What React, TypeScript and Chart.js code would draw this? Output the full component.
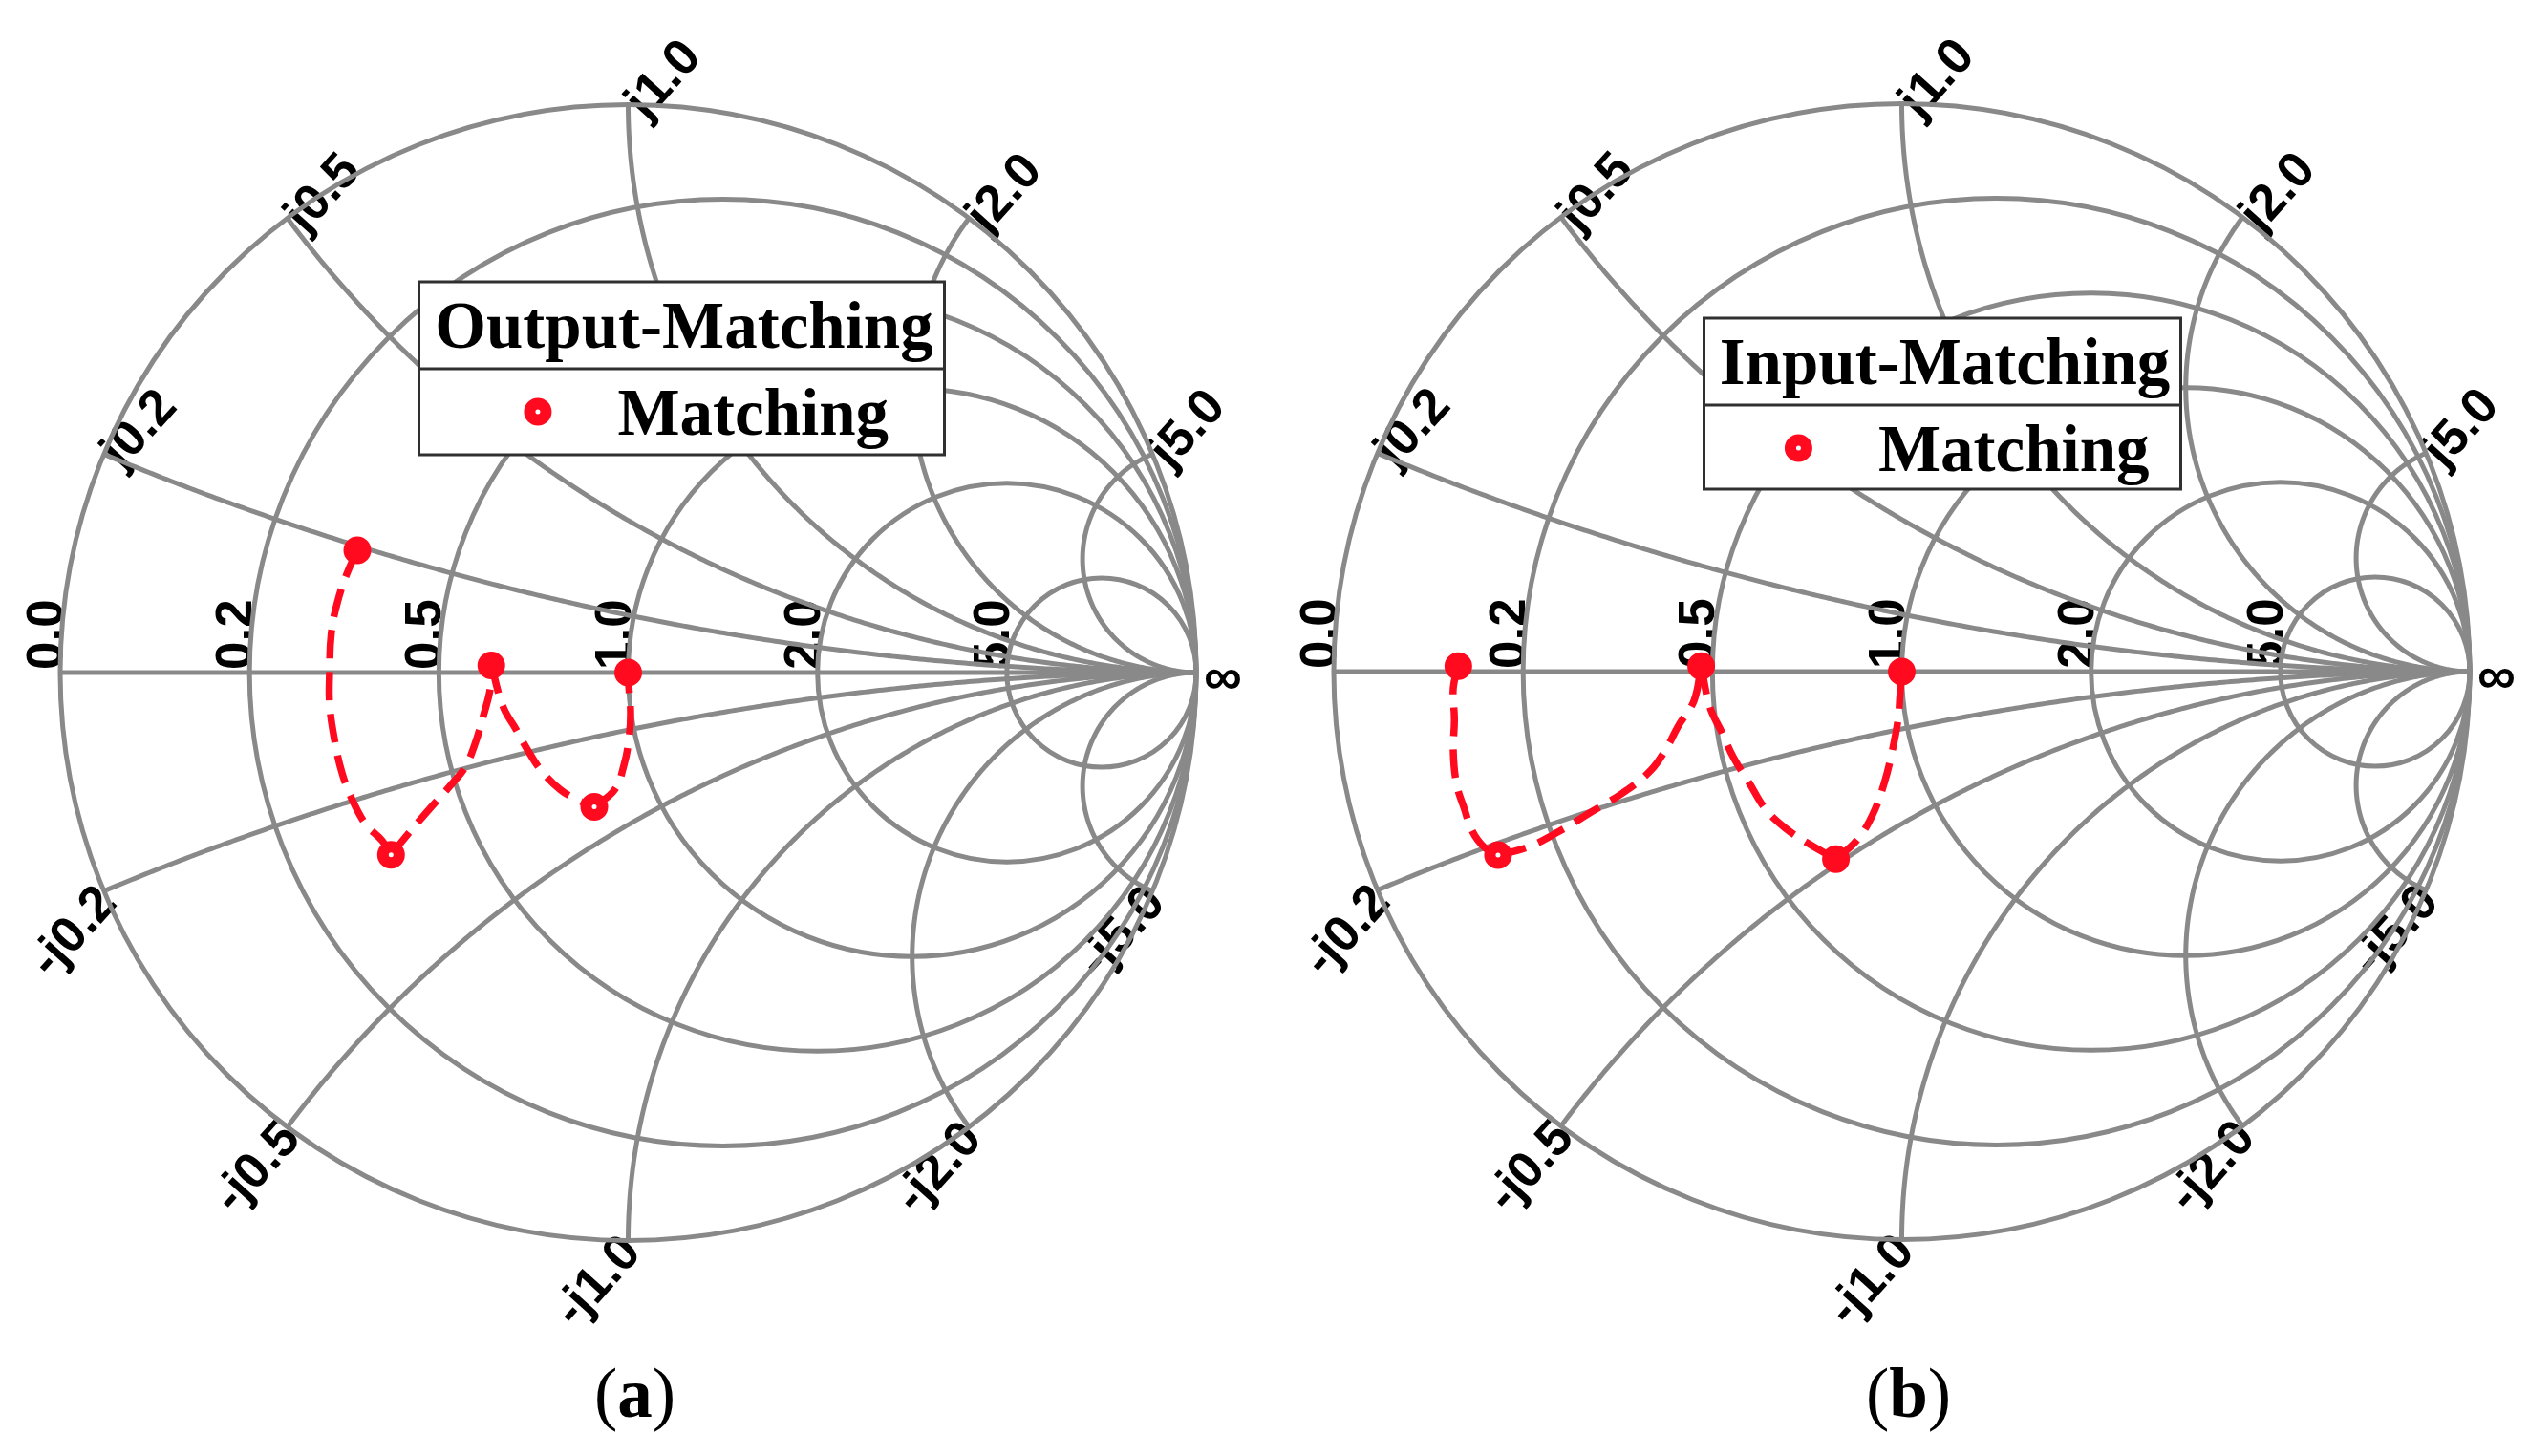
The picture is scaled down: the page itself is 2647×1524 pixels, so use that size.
import React, { useEffect, useRef } from 'react';
import { Chart, registerables } from 'chart.js';

Chart.register(...registerables);

// ---- Smith chart grid values and tick labels ----
const resistanceValues = [0, 0.2, 0.5, 1, 2, 5];
const resistanceLabels = ['0.0', '0.2', '0.5', '1.0', '2.0', '5.0'];
const reactanceValues = [0.2, 0.5, 1, 2, 5];
const reactanceLabelsPos = ['j0.2', 'j0.5', 'j1.0', 'j2.0', 'j5.0'];
const reactanceLabelsNeg = ['-j0.2', '-j0.5', '-j1.0', '-j2.0', '-j5.0'];
const infinityLabel = '\u221E';

const seriesName = 'Matching';

// ---- (a) Output matching: reflection-coefficient path (Re, Im), markers at outMarkerIdx ----
const outPathRe = [
  -0.4769,
  -0.4949, -0.5117, -0.5228, -0.5257, -0.5257, -0.5173, -0.5033, -0.4836, -0.4612, -0.4332,
  -0.4175,
  -0.3882, -0.3546, -0.3098, -0.2873, -0.2705, -0.2537, -0.2426,
  -0.2410,
  -0.2200, -0.1976, -0.1753, -0.1527, -0.1191, -0.0854,
  -0.0597,
  -0.0239, -0.0071, 0.0013, 0.0042, 0.0013,
  0.0,
];
const outPathIm = [
  0.2153,
  0.1749, 0.1245, 0.0685, 0.0012, -0.0550, -0.1166, -0.1783, -0.2288, -0.2680, -0.2960,
  -0.3209,
  -0.2848, -0.2456, -0.1951, -0.1670, -0.1278, -0.0718, -0.0269,
  0.0126,
  -0.0606, -0.0997, -0.1391, -0.1728, -0.2064, -0.2259,
  -0.2363,
  -0.2064, -0.1615, -0.1166, -0.0718, -0.0269,
  0.0,
];
const outMarkerIdx = [0, 11, 19, 26, 32];

// ---- (b) Input matching ----
const inPathRe = [
  -0.7807,
  -0.7896, -0.7876, -0.7896, -0.7840, -0.7701, -0.7561, -0.7352,
  -0.7108,
  -0.6585, -0.6027, -0.5470, -0.4912, -0.4424, -0.4145, -0.3936, -0.3657,
  -0.3531,
  -0.3378, -0.3167, -0.2959, -0.2680, -0.2401, -0.2052, -0.1633,
  -0.1159,
  -0.0797, -0.0518, -0.0310, -0.0170, -0.0066, -0.0030,
  0.0,
];
const inPathIm = [
  0.0096,
  -0.0286, -0.0846, -0.1408, -0.1968, -0.2417, -0.2809, -0.3090,
  -0.3230,
  -0.3090, -0.2809, -0.2473, -0.2136, -0.1744, -0.1351, -0.0959, -0.0510,
  0.0096,
  -0.0622, -0.1071, -0.1519, -0.1968, -0.2417, -0.2754, -0.3033,
  -0.3302,
  -0.2977, -0.2528, -0.1968, -0.1408, -0.0846, -0.0399,
  0.0,
];
const inMarkerIdx = [0, 8, 17, 25, 32];

// ---- styles ----
const GRID = '#898989';
const RED = '#ff0a1e';
const WHITE = '#ffffff';
const SANS = '"Liberation Sans", Arial, sans-serif';
const SERIF = '"Liberation Serif", "Times New Roman", serif';
const outMarkerFill = [RED, WHITE, RED, WHITE, RED];
const inMarkerFill = [RED, WHITE, RED, RED, RED];

type PanelProps = {
  left: number;
  width: number;
  height: number;
  padding: { left: number; right: number; top: number; bottom: number };
  pathRe: number[];
  pathIm: number[];
  markerIdx: number[];
  markerFill: string[];
  legendTitle: string;
  legendDx: number;
  legendDy: number;
  legendW: number;
  legendH: number;
  captionLetter: string;
};

function SmithPanel(props: PanelProps) {
  const ref = useRef<HTMLCanvasElement>(null);

  useEffect(() => {
    const canvas = ref.current!;
    const { pathRe, pathIm, markerIdx } = props;

    const segments: { x: number; y: number }[][] = [];
    for (let s = 0; s < markerIdx.length - 1; s++) {
      const pts: { x: number; y: number }[] = [];
      for (let i = markerIdx[s]; i <= markerIdx[s + 1]; i++) pts.push({ x: pathRe[i], y: pathIm[i] });
      segments.push(pts);
    }
    const markers = markerIdx.map((i) => ({ x: pathRe[i], y: pathIm[i] }));

    const datasets: any[] = [
      {
        label: seriesName,
        data: markers,
        showLine: false,
        pointRadius: 8.5,
        pointHoverRadius: 8.5,
        pointBorderWidth: 12,
        pointBackgroundColor: props.markerFill,
        pointBorderColor: RED,
      },
      ...segments.map((seg) => ({
        label: seriesName + ' path',
        data: seg,
        showLine: true,
        borderColor: RED,
        borderWidth: 7.5,
        borderDash: [30, 14],
        borderCapStyle: 'butt',
        tension: 0.4,
        pointRadius: 0,
        pointHoverRadius: 0,
        fill: false,
      })),
    ];

    const smithPlugin = {
      id: 'smithGrid',
      beforeDatasetsDraw(chart: any) {
        const ctx: CanvasRenderingContext2D = chart.ctx;
        const xs = chart.scales.x;
        const ys = chart.scales.y;
        const px = (v: number) => xs.getPixelForValue(v);
        const py = (v: number) => ys.getPixelForValue(v);
        const cx = px(0);
        const cy = py(0);
        const R = px(1) - cx;

        ctx.save();
        // ---- labels (drawn under the grid) ----
        ctx.fillStyle = '#000';
        ctx.font = `bold 53px ${SANS}`;
        resistanceValues.forEach((r, i) => {
          const g = (r - 1) / (r + 1);
          ctx.save();
          ctx.translate(px(g) + 2, cy - 3);
          ctx.rotate(-Math.PI / 2);
          ctx.textAlign = 'left';
          ctx.textBaseline = 'alphabetic';
          ctx.fillText(resistanceLabels[i], 0, 0);
          ctx.restore();
        });
        const ang = (-48 * Math.PI) / 180;
        reactanceValues.forEach((x, i) => {
          const gr = (x * x - 1) / (x * x + 1);
          const gi = (2 * x) / (x * x + 1);
          ctx.save();
          ctx.translate(px(gr), py(gi));
          ctx.rotate(ang);
          ctx.textAlign = 'left';
          ctx.textBaseline = 'middle';
          ctx.fillText(reactanceLabelsPos[i], 0, 11);
          ctx.restore();
          ctx.save();
          ctx.translate(px(gr), py(-gi));
          ctx.rotate(ang);
          ctx.textAlign = 'right';
          ctx.textBaseline = 'middle';
          ctx.fillText(reactanceLabelsNeg[i], 0, 6);
          ctx.restore();
        });
        ctx.font = `bold 56px ${SANS}`;
        ctx.textAlign = 'left';
        ctx.textBaseline = 'middle';
        ctx.fillText(infinityLabel, px(1) + 8, cy + 8);

        // ---- grid ----
        ctx.strokeStyle = GRID;
        ctx.lineWidth = 5;
        resistanceValues.forEach((r) => {
          const c = r / (1 + r);
          const rad = 1 / (1 + r);
          ctx.beginPath();
          ctx.arc(px(c), cy, rad * R, 0, Math.PI * 2);
          ctx.stroke();
        });
        ctx.beginPath();
        ctx.moveTo(px(-1), cy);
        ctx.lineTo(px(1), cy);
        ctx.stroke();
        reactanceValues.forEach((x) => {
          const rho = 1 / x;
          const gr = (x * x - 1) / (x * x + 1);
          const gi = (2 * x) / (x * x + 1);
          const tA = -Math.PI / 2;
          let tB = Math.atan2(gi - rho, gr - 1);
          if (tB > tA) tB -= Math.PI * 2;
          for (const sgn of [1, -1]) {
            ctx.beginPath();
            const n = 300;
            for (let k = 0; k <= n; k++) {
              const t = tA + ((tB - tA) * k) / n;
              const u = 1 + rho * Math.cos(t);
              const v = sgn * (rho + rho * Math.sin(t));
              if (k === 0) ctx.moveTo(px(u), py(v));
              else ctx.lineTo(px(u), py(v));
            }
            ctx.stroke();
          }
        });
        ctx.restore();
      },
      afterDatasetsDraw(chart: any) {
        const ctx: CanvasRenderingContext2D = chart.ctx;
        const xs = chart.scales.x;
        const ys = chart.scales.y;
        const cx = xs.getPixelForValue(0);
        const cy = ys.getPixelForValue(0);
        ctx.save();
        // ---- legend box ----
        const bx = cx + props.legendDx;
        const by = cy + props.legendDy;
        const bw = props.legendW;
        const bh = props.legendH;
        const divY = by + 91;
        ctx.fillStyle = WHITE;
        ctx.fillRect(bx, by, bw, bh);
        ctx.strokeStyle = '#303030';
        ctx.lineWidth = 3;
        ctx.strokeRect(bx, by, bw, bh);
        ctx.beginPath();
        ctx.moveTo(bx, divY);
        ctx.lineTo(bx + bw, divY);
        ctx.stroke();
        const bcx = bx + bw / 2;
        ctx.fillStyle = '#000';
        ctx.font = `bold 69px ${SERIF}`;
        ctx.textAlign = 'center';
        ctx.textBaseline = 'alphabetic';
        ctx.fillText(props.legendTitle, bcx + 2.5, by + 68.5);
        const tw = ctx.measureText(seriesName).width;
        const mx = bcx - 8.75 - tw / 2;
        const my = divY + 45;
        ctx.beginPath();
        ctx.arc(mx, my, 8.5, 0, Math.PI * 2);
        ctx.fillStyle = WHITE;
        ctx.fill();
        ctx.strokeStyle = RED;
        ctx.lineWidth = 12;
        ctx.stroke();
        ctx.fillStyle = '#000';
        ctx.textAlign = 'left';
        ctx.fillText(seriesName, mx + 83.5, divY + 68.5);

        // ---- caption (a)/(b) ----
        const fN = `73px ${SERIF}`;
        const fB = `bold 73px ${SERIF}`;
        ctx.font = fN;
        const w1 = ctx.measureText('(').width;
        const w3 = ctx.measureText(')').width;
        ctx.font = fB;
        const w2 = ctx.measureText(props.captionLetter).width;
        let x0 = cx + 7 - (w1 + w2 + w3) / 2;
        const base = 1483;
        ctx.textAlign = 'left';
        ctx.font = fN;
        ctx.fillText('(', x0, base);
        x0 += w1;
        ctx.font = fB;
        ctx.fillText(props.captionLetter, x0, base);
        x0 += w2;
        ctx.font = fN;
        ctx.fillText(')', x0, base);
        ctx.restore();
      },
    };

    const chart = new Chart(canvas, {
      type: 'scatter',
      data: { datasets },
      options: {
        animation: false,
        responsive: false,
        devicePixelRatio: 1,
        events: [],
        layout: { padding: props.padding },
        plugins: {
          legend: { display: false },
          tooltip: { enabled: false },
        },
        scales: {
          x: { type: 'linear', min: -1, max: 1, display: false },
          y: { type: 'linear', min: -1, max: 1, display: false },
        },
      } as any,
      plugins: [smithPlugin as any],
    });
    return () => chart.destroy();
  }, []);

  return (
    <canvas
      ref={ref}
      width={props.width}
      height={props.height}
      style={{ position: 'absolute', left: props.left, top: 0, width: props.width, height: props.height }}
    />
  );
}

export default function App() {
  return (
    <div style={{ position: 'absolute', left: 0, top: 0, width: 2647, height: 1524, background: '#ffffff', overflow: 'hidden' }}>
      <SmithPanel
        left={0}
        width={1323}
        height={1524}
        padding={{ left: 63, right: 71, top: 109.5, bottom: 225.5 }}
        pathRe={outPathRe}
        pathIm={outPathIm}
        markerIdx={outMarkerIdx}
        markerFill={outMarkerFill}
        legendTitle="Output-Matching"
        legendDx={-219}
        legendDy={-409}
        legendW={550}
        legendH={181}
        captionLetter="a"
      />
      <SmithPanel
        left={1323}
        width={1324}
        height={1524}
        padding={{ left: 73, right: 62, top: 108.5, bottom: 226.5 }}
        pathRe={inPathRe}
        pathIm={inPathIm}
        markerIdx={inMarkerIdx}
        markerFill={inMarkerFill}
        legendTitle="Input-Matching"
        legendDx={-207}
        legendDy={-370}
        legendW={499}
        legendH={179}
        captionLetter="b"
      />
    </div>
  );
}
